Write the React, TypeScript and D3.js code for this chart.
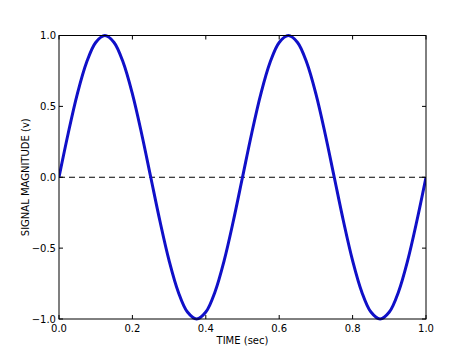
import React from "react";
import * as d3 from "d3";

const times = [0, 0.025, 0.05, 0.075, 0.1, 0.125, 0.15, 0.175, 0.2, 0.225, 0.25, 0.275, 0.3, 0.325, 0.35, 0.375, 0.4, 0.425, 0.45, 0.475, 0.5, 0.525, 0.55, 0.575, 0.6, 0.625, 0.65, 0.675, 0.7, 0.725, 0.75, 0.775, 0.8, 0.825, 0.85, 0.875, 0.9, 0.925, 0.95, 0.975, 1.0];
const signal = [0, 0.309, 0.588, 0.809, 0.951, 1.0, 0.951, 0.809, 0.588, 0.309, 0, -0.309, -0.588, -0.809, -0.951, -1.0, -0.951, -0.809, -0.588, -0.309, 0, 0.309, 0.588, 0.809, 0.951, 1.0, 0.951, 0.809, 0.588, 0.309, 0, -0.309, -0.588, -0.809, -0.951, -1.0, -0.951, -0.809, -0.588, -0.309, 0];
const xTicks = [0, 0.2, 0.4, 0.6, 0.8, 1.0];
const yTicks = [-1.0, -0.5, 0.0, 0.5, 1.0];

export default function App() {
  const W = 474, H = 355;
  const L = 59, R = 426, T = 35.5, B = 319;
  const x = d3.scaleLinear().domain([0, 1]).range([L, R]);
  const y = d3.scaleLinear().domain([-1, 1]).range([B, T]);
  const pts = times.map((t, i) => [t, signal[i]] as [number, number]);
  const line = d3.line<[number, number]>().x(d => x(d[0])).y(d => y(d[1])).curve(d3.curveCatmullRom.alpha(0.5));
  const font = "'DejaVu Sans', sans-serif";
  const tc = "#000";
  return (
    <svg width={W} height={H} style={{ position: "absolute", left: 0, top: 0, background: "#fff" }}>
      <rect x={0} y={0} width={W} height={H} fill="#fff" />
      <defs>
        <clipPath id="plotclip"><rect x={L} y={T - 3} width={R - L} height={B - T + 6} /></clipPath>
      </defs>
      <line x1={x(0)} x2={x(1)} y1={y(0)} y2={y(0)} stroke="#000" strokeWidth={1} strokeDasharray="6,4" />
      <path d={line(pts) || ""} fill="none" stroke="#1010c8" strokeWidth={3} clipPath="url(#plotclip)" />
      <rect x={L} y={T} width={R - L} height={B - T} fill="none" stroke="#000" strokeWidth={1} />
      {xTicks.map(t => (
        <g key={"x" + t}>
          <line x1={x(t)} x2={x(t)} y1={B} y2={B - 4} stroke={tc} />
          <line x1={x(t)} x2={x(t)} y1={T} y2={T + 4} stroke={tc} />
          <text x={x(t)} y={B + 13} fontSize={10} fontFamily={font} textAnchor="middle" fill="#000">{d3.format(".1f")(t)}</text>
        </g>
      ))}
      {yTicks.map(t => (
        <g key={"y" + t}>
          <line x1={L} x2={L + 4} y1={y(t)} y2={y(t)} stroke={tc} />
          <line x1={R} x2={R - 4} y1={y(t)} y2={y(t)} stroke={tc} />
          <text x={L - 3} y={y(t) + 3.5} fontSize={10} fontFamily={font} textAnchor="end" fill="#000">{d3.format(".1f")(t).replace("-", "\u2212")}</text>
        </g>
      ))}
      <text x={(L + R) / 2} y={344} fontSize={10} fontFamily={font} textAnchor="middle" fill="#000">TIME (sec)</text>
      <text transform={`translate(29,${(T + B) / 2}) rotate(-90)`} fontSize={10} fontFamily={font} textAnchor="middle" fill="#000">SIGNAL MAGNITUDE (v)</text>
    </svg>
  );
}
